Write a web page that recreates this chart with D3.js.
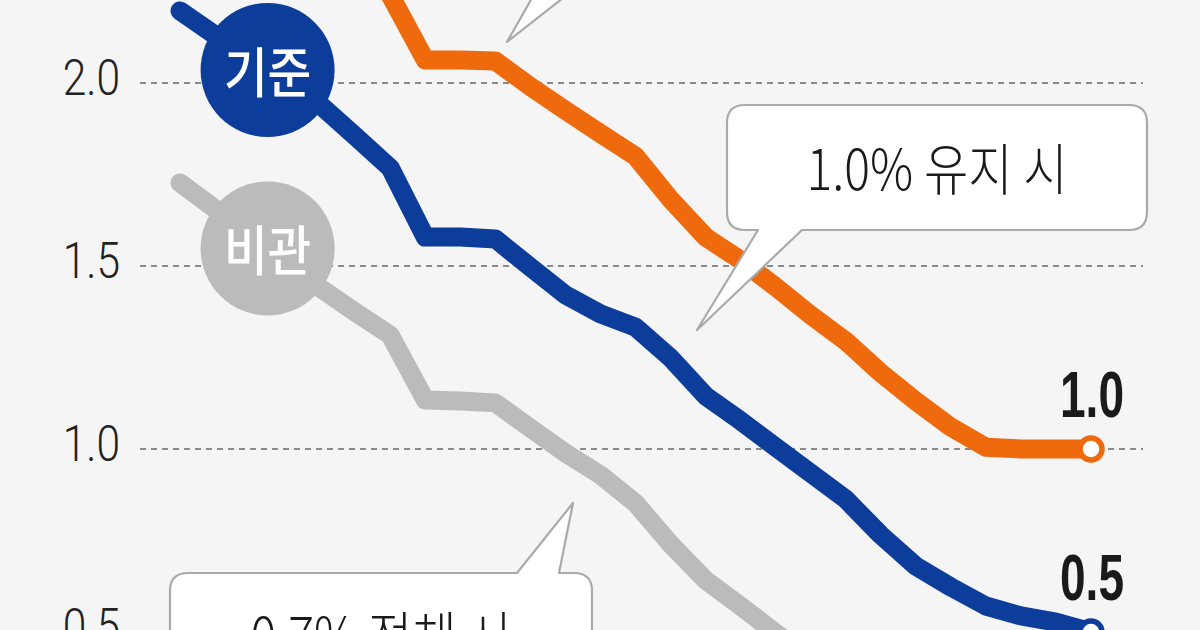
<!DOCTYPE html>
<html><head><meta charset="utf-8">
<script src="https://cdn.jsdelivr.net/npm/d3@7"></script>
<style>html,body{margin:0;padding:0;background:#f5f5f5;} svg{display:block}</style>
</head><body>
<svg id="c" width="1200" height="630"></svg>
<script>
// ---- data ----
const years = [2024,2025,2026,2027,2028,2029,2030,2031,2032,2033,2034,2035,2036,2037,2038,2039,2040,2041,2042,2043,2044,2045,2046,2047,2048,2049,2050];
const maintain = [2.66,2.60,2.54,2.47,2.41,2.33,2.24,2.063,2.063,2.060,1.990,1.925,1.862,1.800,1.682,1.579,1.516,1.443,1.366,1.295,1.208,1.131,1.060,1.005,1.0,1.0,1.0];
const base     = [2.197,2.131,2.068,2.003,1.940,1.855,1.768,1.579,1.579,1.574,1.497,1.421,1.369,1.333,1.249,1.145,1.077,1.005,0.934,0.863,0.765,0.680,0.623,0.571,0.544,0.527,0.5];
const pessim   = [1.727,1.656,1.585,1.511,1.440,1.374,1.311,1.134,1.131,1.126,1.057,0.989,0.929,0.852,0.740,0.642,0.571,0.497,0.43,0.37,0.31,0.26,0.22,0.19,0.17,0.15,0.14];
const yTicks = [2.0,1.5,1.0,0.5];
const yTickLabels = ["2.0","1.5","1.0","0.5"];
const endLabels = ["1.0","0.5"];
const seriesNames = ["1.0% 유지 시","기준","비관"];
const calloutTexts = ["1.0% 유지 시","0.7% 정체 시"];

const colors = {orange:"#ef6a0c", blue:"#0d3d9b", gray:"#bbbbbb"};

const svg = d3.select("#c");
svg.append("rect").attr("width",1200).attr("height",630).attr("fill","#f5f5f5");

const x = d3.scaleLinear().domain([years[0], years[years.length-1]]).range([180,1091]);
const y = d3.scaleLinear().domain([0.5,2.0]).range([632,83]);

// gridlines
const grid = svg.append("g");
grid.selectAll("line").data(yTicks).join("line")
  .attr("x1",140).attr("x2",1143)
  .attr("y1",d=>y(d)).attr("y2",d=>y(d))
  .attr("stroke","#8a8a8a").attr("stroke-width",2.2).attr("stroke-dasharray","6,5");

// tick labels
grid.selectAll("text").data(yTicks).join("text")
  .attr("transform",d=>`translate(120,${y(d)+12}) scale(0.85,1)`)
  .attr("text-anchor","end")
  .attr("font-family","Roboto, 'Liberation Sans', sans-serif")
  .attr("font-weight",300)
  .attr("font-size",50)
  .attr("fill","#222")
  .text((d,i)=>yTickLabels[i]);

const line = d3.line().x((d,i)=>x(years[i])).y(d=>y(d));

const series = [
  {vals:pessim, color:colors.gray},
  {vals:base, color:colors.blue},
  {vals:maintain, color:colors.orange}
];
svg.append("g").selectAll("path").data(series).join("path")
  .attr("d",d=>line(d.vals))
  .attr("fill","none")
  .attr("stroke",d=>d.color)
  .attr("stroke-width",19)
  .attr("stroke-linejoin","round")
  .attr("stroke-linecap","round");

// name circles on lines
const circ = [
  {vals:base, color:colors.blue, label:seriesNames[1]},
  {vals:pessim, color:colors.gray, label:seriesNames[2]}
];
const cg = svg.append("g").selectAll("g").data(circ).join("g")
  .attr("transform",d=>{
    const cx=(x(years[2])+x(years[3]))/2, cy=(y(d.vals[2])+y(d.vals[3]))/2;
    return `translate(${cx},${cy})`;
  });
cg.append("circle").attr("r",67).attr("fill",d=>d.color);
cg.append("text")
  .attr("transform","translate(0,23) scale(0.88,1)")
  .attr("text-anchor","middle")
  .attr("font-family","'Noto Sans CJK KR', sans-serif")
  .attr("font-weight",500)
  .attr("font-size",54)
  .attr("fill","#fff")
  .text(d=>d.label);

// end markers
const ends = [
  {vals:maintain, color:colors.orange, label:endLabels[0]},
  {vals:base, color:colors.blue, label:endLabels[1]}
];
const last = years.length-1;
const eg = svg.append("g").selectAll("g").data(ends).join("g")
  .attr("transform",d=>`translate(${x(years[last])},${y(d.vals[last])})`);
eg.append("circle").attr("r",11).attr("fill","#fff").attr("stroke",d=>d.color).attr("stroke-width",5.5);
eg.append("text")
  .attr("transform","translate(1,-32) scale(0.72,1)")
  .attr("text-anchor","middle")
  .attr("font-family","'Liberation Sans', Arial, sans-serif")
  .attr("font-weight",700)
  .attr("font-size",64)
  .attr("fill","#1a1a1a")
  .text(d=>d.label);

// callouts
function bubble(x0,y0,x1,y1,r,side,b0,b1,tx,ty){
  let p = `M${x0+r},${y0}`;
  if(side==="top") p += `L${b0},${y0}L${tx},${ty}L${b1},${y0}`;
  p += `L${x1-r},${y0}Q${x1},${y0} ${x1},${y0+r}L${x1},${y1-r}Q${x1},${y1} ${x1-r},${y1}`;
  if(side==="bottom") p += `L${b1},${y1}L${tx},${ty}L${b0},${y1}`;
  p += `L${x0+r},${y1}Q${x0},${y1} ${x0},${y1-r}L${x0},${y0+r}Q${x0},${y0} ${x0+r},${y0}Z`;
  return p;
}
const cal = svg.append("g");
const bubbles = [
  {b:[330,-140,750,-2,18,"bottom",532,563,507,42]},
  {b:[727,105,1147,230,18,"bottom",758,802,697,330], text:calloutTexts[0], tx:937, ty:190},
  {b:[170,573,592,700,18,"top",517,559,573,503], text:calloutTexts[1], tx:381, ty:658}
];
bubbles.forEach(o=>{
  cal.append("path").attr("d",bubble(...o.b))
    .attr("fill","#fff").attr("stroke","#aaaaaa").attr("stroke-width",2.2).attr("stroke-linejoin","round");
  if(o.text){
    cal.append("text")
      .attr("transform",`translate(${o.tx},${o.ty}) scale(0.86,1)`)
      .attr("text-anchor","middle")
      .attr("font-family","'Noto Sans CJK KR', sans-serif")
      .attr("font-weight",300)
      .attr("font-size",56)
      .attr("fill","#1a1a1a")
      .text(o.text);
  }
});
</script>
</body></html>
